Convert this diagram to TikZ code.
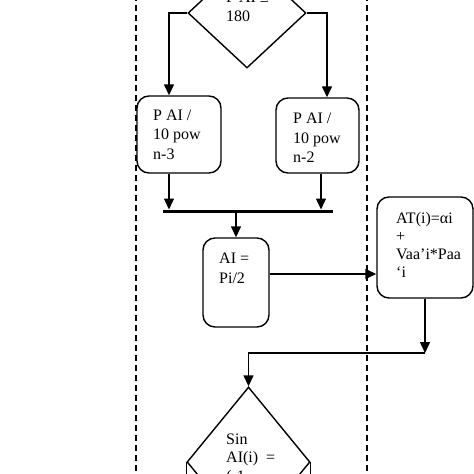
\documentclass[tikz,border=0pt]{standalone}
\usepackage{fontspec}
\setmainfont{Liberation Serif}
\usetikzlibrary{shapes.geometric,arrows.meta}
\begin{document}
\begin{tikzpicture}[x=1pt,y=-1pt,
  lw/.style={line width=1.4pt},
  arr/.style={lw,-{Triangle[length=11pt,width=10pt]}},
  box/.style={draw,lw,rounded corners=12pt,inner sep=0pt},
  dia/.style={draw,lw,diamond,inner sep=0pt},
  txt/.style={anchor=base west,align=left,inner sep=0pt,font=\fontsize{16}{19.5}\selectfont},
  sep/.style={line width=1.4pt,dash pattern=on 6pt off 4pt}]
\useasboundingbox (0,0) rectangle (474,474);
\clip (0,0) rectangle (474,474);
\fill[white] (0,0) rectangle (474,474);
% separators
\coordinate (sL1) at (136,-5); \coordinate (sL2) at (136,480);
\coordinate (sR1) at (367,-5); \coordinate (sR2) at (367,480);
\draw[sep] (sL1) -- (sL2);
\draw[sep] (sR1) -- (sR2);
% top diamond
\node[dia,minimum width=118pt,minimum height=110pt] (d1) at (247,13) {};
\node[txt] (t1) at (226,21.5) {P AI ≤\\180};
% boxes
\node[box,minimum width=84pt,minimum height=77pt] (lb) at (179,134.5) {};
\node[txt] (t2) at (153,159) {P AI /\\10 pow\\n-3};
\node[box,minimum width=83pt,minimum height=75pt] (rb) at (317.5,135.5) {};
\node[txt] (t3) at (293,162.5) {P AI /\\10 pow\\n-2};
% bar
\coordinate (barL) at (163,211); \coordinate (barR) at (333,211);
\draw[line width=3pt] (barL) -- (barR);
% AI box
\node[box,minimum width=66pt,minimum height=89pt] (ai) at (236,282.5) {};
\node[txt] (t4) at (219,283) {AI =\\Pi/2};
% AT box
\node[box,minimum width=96pt,minimum height=101pt] (at) at (425,247.5) {};
\node[txt,font=\fontsize{16}{18}\selectfont] (t5) at (396,277) {AT(i)=αi\\+\\Vaa’i*Paa\\‘i};
% bottom diamond
\node[dia,minimum width=123pt,minimum height=150pt] (d2) at (248.5,462) {};
\node[txt,font=\fontsize{16}{18.5}\selectfont] (t6) at (226,481) {Sin\\AI(i) \ =\\(-1};
% connectors
\coordinate (j) at (425,353);
\draw[arr] (d1.west) -| (lb.north -| 169,0);
\draw[arr] (d1.east) -| (rb.north -| 327,0);
\draw[arr,shorten >=1.5pt] (lb.south -| 169,0) -- (barL -| 169,0);
\draw[arr,shorten >=1.5pt] (rb.south -| 321,0) -- (barL -| 321,0);
\draw[arr] (barL -| ai.north) -- (ai.north);
\draw[arr] (ai.east |- 0,274) -- (at.west |- 0,274);
\draw[arr] (at.south) -- (j);
\draw[arr] (j) -| (d2.north);
\coordinate (e1) at (187,480); \coordinate (e2) at (310,480);
\draw[lw] (d2.west) -- (d2.west |- e1);
\draw[lw] (d2.east) -- (d2.east |- e2);
\end{tikzpicture}
\end{document}
